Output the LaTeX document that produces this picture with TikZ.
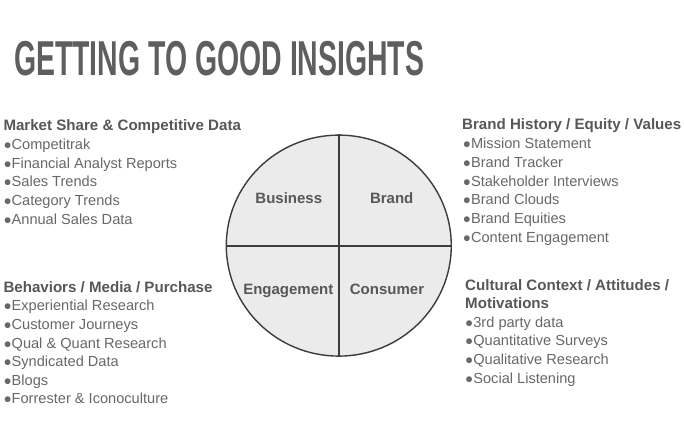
\documentclass[tikz,border=0pt]{standalone}
\usepackage{fontspec}
\setmainfont{Liberation Sans}
\newfontfamily\titlefont[FakeStretch=0.58]{Liberation Sans}
\usepackage{tikz}
\usetikzlibrary{shapes.geometric}

\definecolor{titlegray}{HTML}{5E5E5E}
\definecolor{headgray}{HTML}{575757}
\definecolor{itemgray}{HTML}{686868}
\definecolor{wheelfill}{HTML}{EBEBEB}
\definecolor{wheelline}{HTML}{3C3C3C}

\tikzset{
	heading/.style={anchor=base west,inner sep=0pt,text=headgray,font=\fontsize{15.1}{18}\selectfont\bfseries},
	item/.style={anchor=base west,inner sep=0pt,text=itemgray,font=\fontsize{14.6}{18}\selectfont},
	quadrant/.style={anchor=base,inner sep=0pt,text=headgray,font=\fontsize{15}{18}\selectfont\bfseries},
}
\newcommand{\bul}{{\fontsize{13.5}{18}\selectfont ●}}

\begin{document}
\begin{tikzpicture}[x=1pt,y=-1pt]
	\useasboundingbox [fill=white] (0,0) rectangle (684,432);
	\node [anchor=base west,inner sep=0pt,text=titlegray,font=\titlefont\bfseries\fontsize{49}{49}\selectfont] (title) at (14,75) {GETTING TO GOOD INSIGHTS};
	% the wheel
	\node [ellipse,draw=wheelline,line width=1.4pt,fill=wheelfill,minimum width=225pt,minimum height=221pt,inner sep=0pt] (wheel) at (338.8,245.6) {};
	\draw [wheelline,line width=1.8pt] (wheel.north) -- (wheel.south);
	\draw [wheelline,line width=1.8pt] (wheel.west) -- (wheel.east);
	\node [quadrant] (business) at (288.8,203.3) {Business};
	\node [quadrant] (brand) at (391.7,203.3) {Brand};
	\node [quadrant] (engagement) at (288.3,294) {Engagement};
	\node [quadrant] (consumer) at (387,294) {Consumer};
	% top left
	\node [heading] (market) at (3.3,130) {Market Share \& Competitive Data};
	\foreach \txt [count=\i] in {Competitrak,Financial Analyst Reports,Sales Trends,Category Trends,Annual Sales Data}
		\node [item] (market\i) at (3.3,{130.6+18.7*\i}) {\bul\txt};
	% bottom left
	\node [heading] (behaviors) at (3.3,292.7) {Behaviors / Media / Purchase};
	\foreach \txt [count=\i] in {Experiential Research,Customer Journeys,Qual \& Quant Research,Syndicated Data,Blogs,Forrester \& Iconoculture}
		\node [item] (behaviors\i) at (3.3,{292.05+18.65*\i}) {\bul\txt};
	% top right
	\node [heading] (history) at (462,129.3) {Brand History / Equity / Values};
	\foreach \txt [count=\i] in {Mission Statement,Brand Tracker,Stakeholder Interviews,Brand Clouds,Brand Equities,Content Engagement}
		\node [item] (history\i) at (462.7,{130.03+18.67*\i}) {\bul\txt};
	% bottom right
	\node [heading] (cultural) at (465,290.7) {Cultural Context / Attitudes /};
	\node [heading] (motivations) at (465,308.7) {Motivations};
	\foreach \txt [count=\i] in {3rd party data,Quantitative Surveys,Qualitative Research,Social Listening}
		\node [item] (cultural\i) at (465,{308.63+18.67*\i}) {\bul\txt};
\end{tikzpicture}
\end{document}
